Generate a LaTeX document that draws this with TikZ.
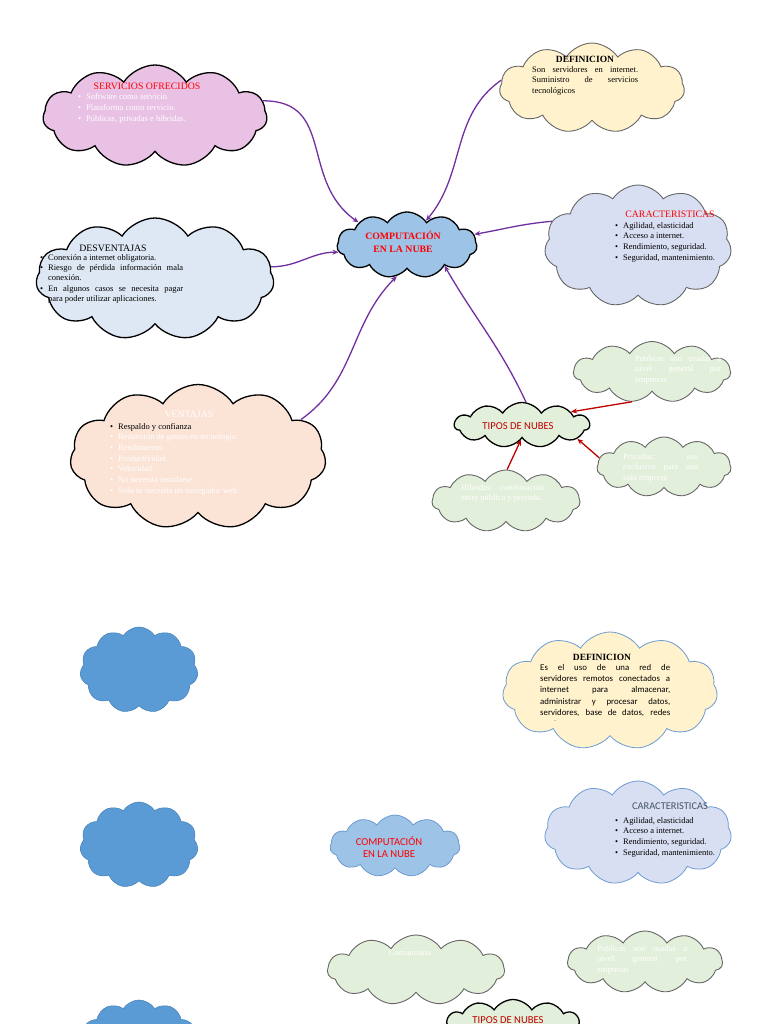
\documentclass[tikz,border=0pt]{standalone}
\usepackage{fontspec}
\setmainfont{Liberation Serif}
\newfontfamily\calibri{Carlito}
\usetikzlibrary{arrows.meta, shapes.symbols}

\definecolor{pinkfill}{HTML}{E8C1E4}
\definecolor{creamfill}{HTML}{FFF2CC}
\definecolor{lilacfill}{HTML}{D9DFF3}
\definecolor{paleblue}{HTML}{DEE8F4}
\definecolor{peachfill}{HTML}{FBE3D6}
\definecolor{skyfill}{HTML}{9DC3E6}
\definecolor{sagefill}{HTML}{E2EFDA}
\definecolor{solidblue}{HTML}{5B9BD5}
\definecolor{solidedge}{HTML}{4A84BC}
\definecolor{edgeblue}{HTML}{6C9BD2}
\definecolor{linkpurple}{HTML}{7030A0}
\definecolor{arrowred}{HTML}{C00000}
\definecolor{titlered}{HTML}{FF0000}
\definecolor{slate}{HTML}{44546A}

\newcommand{\blt}{\makebox[8pt][l]{\textbullet}}
\newcommand{\jl}[2]{\makebox[#1][s]{#2}}

\begin{document}
\begin{tikzpicture}[
    x=1pt, y=-1pt,
    font=\fontsize{8.5}{10.7}\selectfont,
    nube/.style={cloud, cloud puffs=11, cloud puff arc=115, cloud ignores aspect, inner sep=0pt},
    darknube/.style={nube, draw=black, line width=1.3pt},
    greynube/.style={nube, draw=black!60, line width=0.9pt},
    bluenube/.style={nube, draw=edgeblue, line width=0.8pt},
    txt/.style={inner sep=0pt, anchor=north west, align=left},
    ttl/.style={inner sep=0pt, font=\fontsize{9.8}{12}\selectfont},
    sansttl/.style={inner sep=0pt, font=\calibri\fontsize{10.6}{13}\selectfont},
    link/.style={-{Stealth[length=6pt, width=5pt]}, draw=linkpurple, line width=1.3pt},
    redlink/.style={-{Stealth[length=6pt, width=5pt]}, draw=arrowred, line width=1.3pt},
  ]
  \useasboundingbox (0,0) rectangle (768,1024);
  \clip (0,0) rectangle (768,1024);

  % upper map
  \node[darknube, fill=pinkfill, minimum width=224pt, minimum height=102pt] (svc) at (155,116) {};
  \node[greynube, fill=creamfill, minimum width=185pt, minimum height=90pt] (def) at (592,88) {};
  \node[greynube, fill=lilacfill, minimum width=187pt, minimum height=122pt] (car) at (638,246) {};
  \node[darknube, fill=paleblue, minimum width=238pt, minimum height=122pt] (desv) at (155,279) {};
  \node[darknube, fill=peachfill, minimum width=256pt, minimum height=145pt] (vent) at (198,457) {};
  \node[darknube, fill=skyfill, minimum width=140pt, minimum height=66pt] (main) at (407,245) {};
  \node[darknube, fill=sagefill, minimum width=135pt, minimum height=45pt] (tipos) at (522,425) {};
  \node[greynube, fill=sagefill, minimum width=157pt, minimum height=61pt] (pub) at (652,372) {};
  \node[greynube, fill=sagefill, minimum width=134pt, minimum height=60pt] (priv) at (664,467) {};
  \node[greynube, fill=sagefill, minimum width=148pt, minimum height=62pt] (hib) at (506,501) {};

  \node[ttl, text=titlered] (svcttl) at (147,86) {SERVICIOS OFRECIDOS};
  \node[txt, text=white, font=\fontsize{8.5}{11.3}\selectfont] (svctxt) at (78,93)
    {\blt Software como servicio.\\ \blt Plataforma como servicio.\\ \blt Públicas, privadas e híbridas.};

  \node[ttl, font=\fontsize{9.5}{12}\selectfont\bfseries] (defttl) at (585,59) {DEFINICION};
  \node[txt] (deftxt) at (532,66)
    {\jl{106pt}{Son servidores en internet.}\\ \jl{106pt}{Suministro de servicios}\\ tecnológicos};

  \node[ttl, text=titlered] (carttl) at (670,214) {CARACTERISTICAS};
  \node[txt] (cartxt) at (615,222)
    {\blt Agilidad, elasticidad\\ \blt Acceso a internet.\\ \blt Rendimiento, seguridad.\\ \blt Seguridad, mantenimiento.};

  \node[ttl] (desvttl) at (113,248) {DESVENTAJAS};
  \node[txt, font=\fontsize{8.5}{10.3}\selectfont] (desvtxt) at (40,254)
    {\blt Conexión a internet obligatoria.\\
     \blt \jl{135pt}{Riesgo de pérdida información mala}\\
     \hspace*{8pt}conexión.\\
     \blt \jl{135pt}{En algunos casos se necesita pagar}\\
     \hspace*{8pt}para poder utilizar aplicaciones.};

  \node[ttl, text=white] (ventttl) at (189,414) {VENTAJAS};
  \node[txt, text=white] (venttxt) at (110,423)
    {\textcolor{black}{\blt Respaldo y confianza}\\ \blt Reducción de gastos en tecnología.\\
     \blt Rendimiento.\\ \blt Productividad.\\ \blt Velocidad.\\ \blt No necesita instalarse.\\
     \blt Solo se necesita un navegador web.};

  \node[ttl, text=titlered, align=center, font=\fontsize{9.8}{12.5}\selectfont\bfseries] (mainttl) at (403,242)
    {COMPUTACIÓN\\EN LA NUBE};
  \node[sansttl, text=arrowred] (tiposttl) at (518,426) {TIPOS DE NUBES};

  \node[txt, text=white] (pubtxt) at (635,355)
    {\jl{86pt}{Publicas son usadas a}\\ \jl{86pt}{nivel general por}\\ empresas};
  \node[txt, text=white] (privtxt) at (623,453)
    {\jl{75pt}{Privadas: uso}\\ \jl{75pt}{exclusivo para una}\\ sola empresa};
  \node[txt, text=white] (hibtxt) at (461,484)
    {\jl{83pt}{Híbridas: combinación}\\ entre pública y privada.};

  \draw[link] (svc.8) to[out=0, in=145, looseness=1.2] (main.155);
  \draw[link] (def.175) to[out=215, in=50] (main.52);
  \draw[link] (car.164) to[out=185, in=10] (main.9);
  \draw[link] (desv.6) to[out=0, in=180] (main.186);
  \draw[link] (vent.20) to[out=35, in=225] (main.252);
  \draw[link] (tipos.80) to[out=115, in=-60] (main.331);

  \draw[redlink] (pub.236) -- (tipos.15);
  \draw[redlink] (priv.172) -- (tipos.-14);
  \draw[redlink] (hib.88) -- (tipos.266);

  % lower page
  \node[nube, fill=solidblue, draw=solidedge, line width=0.6pt, minimum width=118pt, minimum height=86pt] (blueA) at (139,670) {};
  \node[nube, fill=solidblue, draw=solidedge, line width=0.6pt, minimum width=118pt, minimum height=86pt] (blueB) at (139,845) {};
  \node[nube, fill=solidblue, draw=solidedge, line width=0.6pt, minimum width=118pt, minimum height=86pt] (blueC) at (139,1043) {};

  \node[bluenube, fill=creamfill, minimum width=215pt, minimum height=118pt] (defB) at (610,691) {};
  \node[bluenube, fill=lilacfill, minimum width=187pt, minimum height=104pt] (carB) at (638,833) {};
  \node[bluenube, fill=skyfill, minimum width=130pt, minimum height=62pt] (mainB) at (395,846) {};
  \node[greynube, fill=sagefill, minimum width=177pt, minimum height=70pt] (com) at (416,970) {};
  \node[greynube, fill=sagefill, minimum width=155pt, minimum height=62pt] (pubB) at (645,962) {};
  \node[darknube, fill=sagefill, minimum width=132pt, minimum height=45pt] (tiposB) at (513,1022) {};

  \node[ttl, font=\fontsize{9.5}{12}\selectfont\bfseries] (defBttl) at (602,657) {DEFINICION};
  \node[txt, font=\calibri\fontsize{8.8}{11.3}\selectfont] (defBtxt) at (540,664)
    {\jl{130pt}{Es el uso de una red de}\\ \jl{130pt}{servidores remotos conectados a}\\
     \jl{130pt}{internet para almacenar,}\\ \jl{130pt}{administrar y procesar datos,}\\
     \jl{130pt}{servidores, base de datos, redes}};
  \node[ttl, font=\calibri\fontsize{6}{6}\selectfont] (defBdot) at (555,721) {.};

  \node[sansttl, text=slate, font=\calibri\fontsize{10.4}{13}\selectfont] (carBttl) at (670,806) {CARACTERISTICAS};
  \node[txt] (carBtxt) at (615,817)
    {\blt Agilidad, elasticidad\\ \blt Acceso a internet.\\ \blt Rendimiento, seguridad.\\ \blt Seguridad, mantenimiento.};

  \node[sansttl, text=titlered, align=center, font=\calibri\fontsize{10.6}{12.5}\selectfont] (mainBttl) at (389,847)
    {COMPUTACIÓN\\EN LA NUBE};
  \node[ttl, text=white, font=\fontsize{8.5}{10.7}\selectfont] (comttl) at (410,953) {Comunitaria};
  \node[txt, text=white] (pubBtxt) at (597,945)
    {\jl{90pt}{Publicas son usadas a}\\ \jl{90pt}{nivel general por}\\ empresas};
  \node[sansttl, text=arrowred] (tiposBttl) at (508,1020) {TIPOS DE NUBES};
\end{tikzpicture}
\end{document}
